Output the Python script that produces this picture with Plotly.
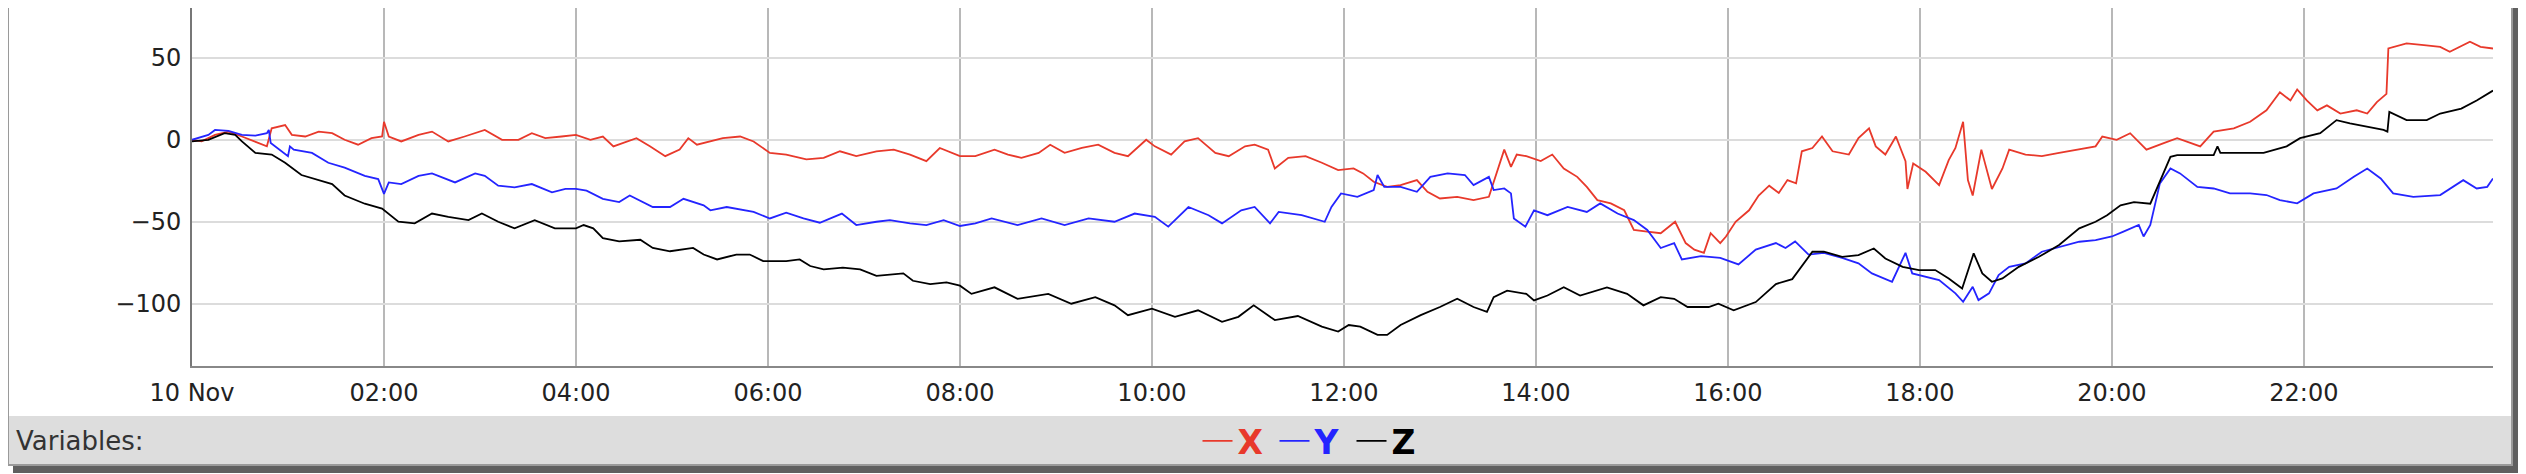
import pandas as pd
import plotly.graph_objects as go

# ---------------- data ----------------
day = "2023-11-10"

x_hours = [0.00, 0.10, 0.24, 0.38, 0.52, 0.66, 0.78, 0.83, 0.97, 1.04, 1.18, 1.32, 1.46, 1.59, 1.73, 1.87,
           1.98, 2.00, 2.05, 2.18, 2.36, 2.50, 2.67, 2.84, 3.05, 3.23, 3.40, 3.54, 3.68, 3.85, 4.00, 4.15,
           4.28, 4.39, 4.63, 4.77, 4.93, 5.08, 5.17, 5.26, 5.40, 5.53, 5.71, 5.85, 6.02, 6.19, 6.40, 6.58,
           6.75, 6.92, 7.13, 7.31, 7.48, 7.65, 7.79, 8.00, 8.16, 8.36, 8.50, 8.64, 8.82, 8.94, 9.09, 9.27,
           9.44, 9.61, 9.75, 9.94, 10.03, 10.20, 10.34, 10.48, 10.66, 10.80, 10.97, 11.07, 11.21, 11.28,
           11.42, 11.60, 11.77, 11.94, 12.10, 12.20, 12.31, 12.45, 12.59, 12.76, 12.87, 13.00, 13.18, 13.35,
           13.51, 13.60, 13.67, 13.74, 13.80, 13.90, 14.05, 14.17, 14.29, 14.43, 14.53, 14.64, 14.78, 14.92,
           15.02, 15.16, 15.30, 15.45, 15.56, 15.65, 15.75, 15.82, 15.92, 15.98, 16.08, 16.22, 16.32, 16.43,
           16.53, 16.62, 16.71, 16.77, 16.88, 16.98, 17.09, 17.26, 17.36, 17.47, 17.54, 17.64, 17.75, 17.85,
           17.87, 17.93, 18.06, 18.20, 18.30, 18.37, 18.45, 18.50, 18.55, 18.64, 18.75, 18.86, 18.93, 19.10,
           19.27, 19.45, 19.66, 19.83, 19.90, 20.05, 20.19, 20.36, 20.54, 20.68, 20.92, 21.06, 21.27, 21.44,
           21.61, 21.75, 21.86, 21.93, 22.03, 22.14, 22.24, 22.38, 22.55, 22.66, 22.76, 22.86, 22.88, 23.07,
           23.25, 23.42, 23.52, 23.73, 23.84, 23.97]
x_values = [0, -1, 3, 5, 2, -1, -4, 7, 9, 3, 2, 5, 4, 0, -3, 1,
            2, 11, 2, -1, 3, 5, -1, 2, 6, 0, 0, 4, 1, 2, 3, 0,
            2, -4, 1, -4, -10, -6, 1, -3, -1, 1, 2, -1, -8, -9, -12, -11,
            -7, -10, -7, -6, -9, -13, -5, -10, -10, -6, -9, -11, -8, -3, -8, -5,
            -3, -8, -10, 0, -4, -9, -1, 1, -8, -10, -4, -3, -6, -17.5,
            -11, -10, -14, -18.5, -17.5, -20.5, -25.6, -28.7, -27.6, -24.6, -31.7, -35.8, -34.8, -36.8,
            -34.8, -18.5, -6, -16.5, -9, -10, -13, -9, -17.5, -22.6, -28.7, -36.8, -38.8, -43,
            -55, -56, -57, -50, -63, -67, -69, -57, -63, -59, -50, -43, -34, -28,
            -32.5, -24.6, -26.6, -7, -5, 2, -7, -9, 1, 7, -4, -9, 2, -13,
            -30, -14.5, -19.5, -27.6, -12.4, -5, 11, -24.6, -34, -6, -30, -17.5, -6, -9,
            -10, -8, -6, -4, 2, 0, 4, -6, -2, 1, -4, 5, 7, 11,
            18, 29, 24, 30.7, 24, 18, 21, 16, 18, 16, 23, 28, 55.7, 58.8,
            57.7, 56.7, 53.7, 59.8, 56.7, 55.7]

y_hours = [0.00, 0.17, 0.24, 0.38, 0.52, 0.66, 0.78, 0.80, 0.82, 0.93, 1.00, 1.02, 1.06, 1.25, 1.42, 1.59,
           1.80, 1.94, 2.00, 2.05, 2.18, 2.36, 2.50, 2.74, 2.95, 3.05, 3.19, 3.36, 3.54, 3.75, 3.89, 4.00,
           4.11, 4.28, 4.45, 4.56, 4.80, 4.98, 5.12, 5.33, 5.40, 5.57, 5.85, 6.02, 6.19, 6.37, 6.54, 6.77,
           6.92, 7.13, 7.27, 7.48, 7.65, 7.83, 8.00, 8.16, 8.33, 8.60, 8.85, 9.09, 9.34, 9.61, 9.82, 10.03,
           10.17, 10.38, 10.59, 10.73, 10.93, 11.07, 11.23, 11.32, 11.56, 11.80, 11.87, 11.97, 12.14, 12.31,
           12.35, 12.42, 12.59, 12.76, 12.90, 13.08, 13.26, 13.35, 13.51, 13.56, 13.67, 13.74, 13.77, 13.89,
           13.98, 14.12, 14.33, 14.53, 14.67, 14.85, 15.02, 15.16, 15.30, 15.44, 15.52, 15.72, 15.92, 16.11,
           16.29, 16.50, 16.60, 16.70, 16.84, 17.00, 17.19, 17.36, 17.50, 17.71, 17.85, 17.92, 18.06, 18.20,
           18.37, 18.45, 18.55, 18.61, 18.72, 18.82, 18.93, 19.10, 19.27, 19.45, 19.66, 19.83, 20.00, 20.12,
           20.28, 20.33, 20.40, 20.50, 20.61, 20.71, 20.89, 21.06, 21.23, 21.44, 21.61, 21.75, 21.93, 22.10,
           22.34, 22.52, 22.66, 22.80, 22.93, 23.14, 23.42, 23.66, 23.80, 23.91, 23.97]
y_values = [0, 3, 6, 5.5, 3, 2.5, 4, 6, -2, -7, -10, -4, -6, -8, -14, -17,
            -22, -24, -33, -26, -27, -22, -20.5, -26, -20.5, -22, -28, -29, -27, -32, -30, -30,
            -31, -36, -38, -34, -41, -41, -36, -40, -43, -41, -44, -48, -44.5, -48, -50.6, -45,
            -52, -50, -49, -51, -52, -49, -52.6, -51, -48, -52, -48, -52, -48, -50, -45, -47,
            -53, -41, -46, -51, -43, -41, -51, -44, -46, -50, -41, -32.7, -34.8, -30.7,
            -21.5, -28.7, -28.7, -31.7, -22.6, -20.5, -21.5, -27.6, -22.6, -30.7, -29.7, -32.7, -48, -53,
            -43, -46, -41, -44, -38.8, -45, -49, -55, -66, -63, -73, -71, -72, -76,
            -67, -63, -66, -62, -70, -69, -72, -75.4, -81.5, -86.6, -69, -81.5, -83.6, -85.6,
            -93.7, -98.8, -89.7, -97.8, -93.7, -82.5, -77.5, -75.4, -68.3, -65.3, -62.2, -61.2, -59, -56,
            -52, -59, -52, -26.6, -17.5, -20.5, -28.7, -29.7, -32.7, -32.7, -33.7, -36.8, -38.8, -32.7,
            -29.7, -22.6, -17.5, -23.6, -32.7, -34.8, -33.7, -24.6, -29.7, -28.7, -23.6]

z_hours = [0.00, 0.17, 0.34, 0.45, 0.52, 0.66, 0.83, 0.97, 1.14, 1.32, 1.46, 1.59, 1.80, 1.98, 2.15, 2.32,
           2.50, 2.67, 2.88, 3.02, 3.19, 3.36, 3.57, 3.78, 4.00, 4.08, 4.18, 4.28, 4.45, 4.67, 4.80, 4.98,
           5.22, 5.33, 5.47, 5.67, 5.81, 5.95, 6.19, 6.33, 6.44, 6.58, 6.78, 6.96, 7.13, 7.41, 7.51, 7.69,
           7.86, 8.00, 8.12, 8.36, 8.60, 8.92, 9.16, 9.41, 9.61, 9.75, 10.00, 10.24, 10.48, 10.73, 10.90,
           11.06, 11.28, 11.52, 11.77, 11.94, 12.05, 12.17, 12.35, 12.45, 12.59, 12.80, 13.00, 13.18, 13.35,
           13.49, 13.56, 13.70, 13.90, 13.98, 14.12, 14.29, 14.46, 14.74, 14.95, 15.12, 15.30, 15.44, 15.58,
           15.80, 15.90, 16.06, 16.29, 16.50, 16.67, 16.88, 17.00, 17.19, 17.36, 17.52, 17.64, 17.82, 17.99,
           18.16, 18.30, 18.44, 18.56, 18.65, 18.75, 18.86, 19.03, 19.24, 19.45, 19.66, 19.83, 19.95, 20.09,
           20.23, 20.40, 20.61, 20.68, 21.06, 21.10, 21.13, 21.58, 21.82, 21.96, 22.17, 22.34, 22.48, 22.83,
           22.87, 22.89, 23.07, 23.28, 23.42, 23.64, 23.80, 23.97]
z_values = [-1, 0, 4, 3, -1, -8, -9, -14, -21.5, -24.6, -27, -34, -39, -42, -50, -51,
            -45, -47, -49, -45, -50, -54, -49, -54, -54, -52, -54, -60, -62, -61, -66, -68,
            -66, -70, -73, -70, -70, -74, -74, -73, -77, -79, -78, -79, -83, -81.5, -86, -88,
            -87, -89, -94, -90, -97, -94, -100, -96, -101, -107, -103, -108, -104, -111, -108,
            -101, -110, -107.5, -114, -117, -113, -114, -119, -119, -113, -107, -102, -97, -102,
            -105, -96, -92, -94, -98, -95, -90, -95, -90, -94, -101, -96, -97, -102,
            -102, -100, -104, -99, -88, -85, -68.3, -68.3, -71.4, -70.3, -66.3, -72.4, -77.5, -79.5,
            -79.5, -84.6, -90.7, -69.3, -81.5, -86.6, -84.6, -77.5, -71.4, -64.2, -54, -50, -46, -40,
            -38, -39, -10.4, -9.4, -9.4, -4, -8, -8, -4, 1, 4, 12, 10, 6,
            5, 17, 12, 12, 16, 19, 24, 30]

tick_hours = [0, 2, 4, 6, 8, 10, 12, 14, 16, 18, 20, 22]
tick_labels = ["10 Nov", "02:00", "04:00", "06:00", "08:00", "10:00",
               "12:00", "14:00", "16:00", "18:00", "20:00", "22:00"]
y_ticks = [-100, -50, 0, 50]
series_names = ["X", "Y", "Z"]
series_colors = ["#e8392b", "#2424ff", "#000000"]

# ---------------- figure ----------------
base = pd.Timestamp(day)


def to_time(hours):
    return base + pd.to_timedelta(hours, unit="h")


# The page body has an 8 px default margin, so the figure is drawn 8 px smaller
# and every pixel position (measured on the 2526x474 screen) is shifted by OFF.
OFF = 8
W, H = 2526 - OFF, 474 - OFF
L, R, T, B = 192 - OFF, 2493 - OFF, 8 - OFF, 366 - OFF  # plot area in figure pixels


def px(xs):  # screen x -> paper x
    return (xs - OFF - L) / (R - L)


def py(ys):  # screen y -> paper y
    return (B - (ys - OFF)) / (B - T)


fig = go.Figure()
for name, hrs, vals, col in zip(series_names, [x_hours, y_hours, z_hours],
                                [x_values, y_values, z_values], series_colors):
    fig.add_trace(go.Scatter(
        x=to_time(hrs), y=vals, mode="lines", line=dict(color=col, width=1.8),
        name=f'<span style="color:{col}"><b>{name}</b></span>'))

font = "DejaVu Sans, Verdana, sans-serif"

shapes = [
    # window shadow
    dict(type="rect", xref="paper", yref="paper", x0=px(13), x1=px(2519), y0=py(473), y1=py(-20),
         fillcolor="#5f5f5f", line=dict(width=0), layer="below"),
    # window body
    dict(type="rect", xref="paper", yref="paper", x0=px(8), x1=px(2512), y0=py(465), y1=py(-20),
         fillcolor="#ffffff", line=dict(color="#9a9a9a", width=2), layer="below"),
    # variables band
    dict(type="rect", xref="paper", yref="paper", x0=px(9), x1=px(2511), y0=py(464), y1=py(416),
         fillcolor="#dddddd", line=dict(width=0), layer="below"),
]

fig.update_layout(
    width=W, height=H,
    margin=dict(l=L, r=W - R, t=T, b=H - B, pad=0, autoexpand=False),
    paper_bgcolor="#ffffff", plot_bgcolor="rgba(0,0,0,0)",
    font=dict(family=font, size=24, color="#222222"),
    showlegend=True,
    legend=dict(orientation="h", xref="container", yref="container",
                x=(1313 - OFF) / W, xanchor="center", y=1 - (441 - OFF) / H, yanchor="middle",
                bgcolor="rgba(0,0,0,0)", font=dict(size=33, family=font), itemwidth=30,
                entrywidth=32, entrywidthmode="pixels"),
    shapes=shapes,
    annotations=[dict(text="Variables:", xref="paper", yref="paper", x=px(14), y=py(441),
                      xanchor="left", yanchor="middle", showarrow=False,
                      font=dict(size=26, color="#333333", family=font))],
    xaxis=dict(type="date", range=[to_time(0), to_time(23.97)],
               tickvals=to_time(tick_hours), ticktext=tick_labels,
               showgrid=True, gridcolor="#b8b8b8", gridwidth=1.5,
               showline=True, linecolor="#888888", linewidth=2,
               ticks="outside", ticklen=4, tickcolor="rgba(0,0,0,0)",
               zeroline=False, tickfont=dict(size=24, color="#222222")),
    yaxis=dict(range=[-138, 80.4], tickvals=y_ticks,
               showgrid=True, gridcolor="#dcdcdc", gridwidth=1.5,
               showline=True, linecolor="#777777", linewidth=2,
               ticks="outside", ticklen=4, tickcolor="rgba(0,0,0,0)",
               zeroline=False, tickfont=dict(size=24, color="#222222")),
)

fig.write_html("out.html")
